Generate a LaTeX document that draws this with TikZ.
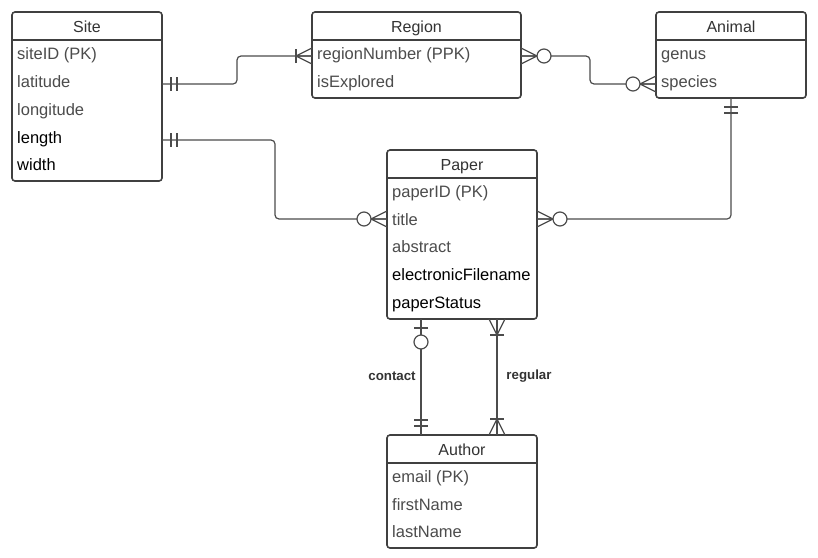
\documentclass[tikz,border=0pt]{standalone}
\usepackage{fontspec}
\setmainfont{Liberation Sans}
\begin{document}
\begin{tikzpicture}[x=1pt,y=-1pt,
  tbl/.style={draw=black!75,line width=1.6pt,rounded corners=3pt,fill=white},
  hdr/.style={anchor=base,text=black!80,font=\fontsize{16}{19}\selectfont},
  row/.style={anchor=base west,text=black!70,font=\fontsize{16.5}{19}\selectfont,inner sep=0pt},
  rowk/.style={row,text=black},
  ln/.style={draw=black!70,line width=1.2pt},
  lbl/.style={font=\bfseries\fontsize{13.3}{15}\selectfont,text=black!80},
  crow/.pic={\draw[ln] (16,0)--(0,8) (16,0)--(0,-8) (16,0)--(0,0);},
  bar/.pic={\draw[ln] (16,-7)--(16,7);},
  sbar/.pic={\draw[ln] (9,-7)--(9,7);},
  circ/.pic={\draw[ln,fill=white] (23,0) circle (7);},
  dbar/.pic={\draw[ln] (9,-7)--(9,7) (15,-7)--(15,7);}
]
\useasboundingbox (0,0) rectangle (818,557);
\newcommand\mytable[6]{%
  \draw[tbl] (#2,#3) rectangle (#4,#5);
  \draw[black!75,line width=1.6pt] (#2,#3+28)--(#4,#3+28);
  \node[hdr] (#1) at ({(#2+#4)/2},#3+20) {#6};}
\newcommand\rb{6}
\mytable{site}{12}{12}{162}{181}{Site}
\node[row] (s1) at (17,53+\rb) {siteID (PK)};
\node[row] (s2) at (17,81+\rb) {latitude};
\node[row] (s3) at (17,109+\rb) {longitude};
\node[rowk] (s4) at (17,137+\rb) {length};
\node[rowk] (s5) at (17,164+\rb) {width};
\mytable{region}{312}{12}{521}{98}{Region}
\node[row] (r1) at (317,53+\rb) {regionNumber (PPK)};
\node[row] (r2) at (317,81+\rb) {isExplored};
\mytable{animal}{656}{12}{806}{98}{Animal}
\node[row] (a1) at (661,53+\rb) {genus};
\node[row] (a2) at (661,81+\rb) {species};
\mytable{paper}{387}{150}{537}{319}{Paper}
\node[row] (p1) at (392,191+\rb) {paperID (PK)};
\node[row] (p2) at (392,219+\rb) {title};
\node[row] (p3) at (392,246+\rb) {abstract};
\node[rowk] (p4) at (392,274+\rb) {electronicFilename};
\node[rowk] (p5) at (392,302+\rb) {paperStatus};
\mytable{author}{387}{435}{537}{548}{Author}
\node[row] (u1) at (392,476+\rb) {email (PK)};
\node[row] (u2) at (392,504+\rb) {firstName};
\node[row] (u3) at (392,531+\rb) {lastName};
\coordinate (sA) at (162,84); \coordinate (rL) at (312,56);
\coordinate (rR) at (521,56); \coordinate (aL) at (656,84);
\coordinate (sB) at (162,140); \coordinate (pL) at (387,219);
\coordinate (aB) at (731,98); \coordinate (pR) at (537,219);
\coordinate (pB1) at (421,319); \coordinate (uT1) at (421,435);
\coordinate (pB2) at (497,319); \coordinate (uT2) at (497,435);
\draw[ln,rounded corners=4pt] (sA) -| (237,70) |- (rL);
\draw[ln,rounded corners=4pt] (rR) -| (590,70) |- (aL);
\draw[ln,rounded corners=4pt] (sB) -| (275,180) |- (pL);
\draw[ln,rounded corners=4pt] (aB) |- (pR);
\draw[ln] (pB1) -- (uT1);
\draw[ln] (pB2) -- (uT2);
\pic at (sA) {dbar}; \pic at (sB) {dbar};
\pic[rotate=180] at (rL) {crow}; \pic[rotate=180] at (rL) {bar};
\pic at (rR) {crow}; \pic at (rR) {circ};
\pic[rotate=180] at (aL) {crow}; \pic[rotate=180] at (aL) {circ};
\pic[rotate=180] at (pL) {crow}; \pic[rotate=180] at (pL) {circ};
\pic at (pR) {crow}; \pic at (pR) {circ};
\pic[rotate=-90] at (aB) {dbar};
\pic[rotate=-90] at (pB1) {circ}; \pic[rotate=-90] at (pB1) {sbar};
\pic[rotate=90] at (uT1) {dbar};
\pic[rotate=-90] at (pB2) {crow}; \pic[rotate=-90] at (pB2) {bar};
\pic[rotate=90] at (uT2) {crow}; \pic[rotate=90] at (uT2) {bar};
\node[lbl] (c) at (392,376) {contact};
\node[lbl] (g) at (529,376) {regular};
\end{tikzpicture}
\end{document}
